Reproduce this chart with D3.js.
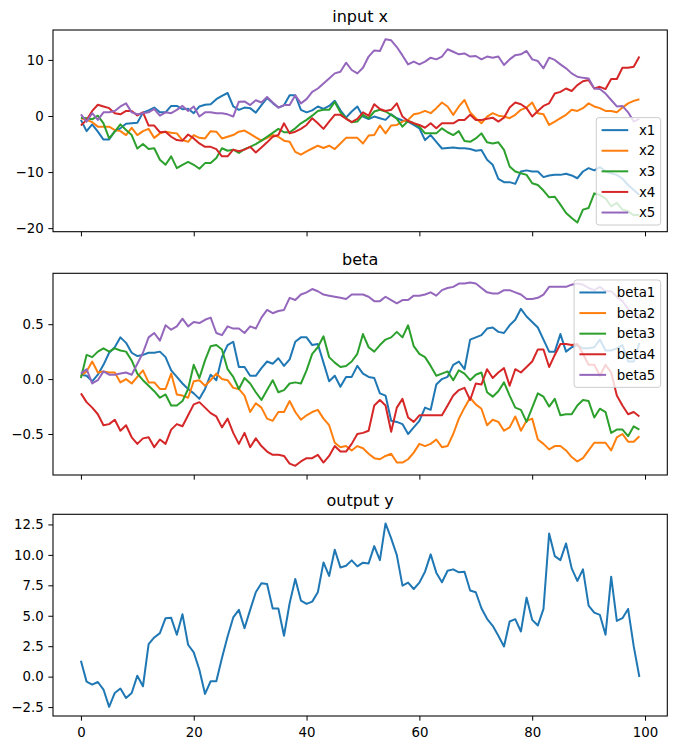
<!DOCTYPE html>
<html>
<head>
<meta charset="utf-8">
<script src="https://cdn.jsdelivr.net/npm/d3@7"></script>
<style>
	body { margin: 0; background: #fff; }
	text { font-family: 'DejaVu Sans', sans-serif; }
</style>
</head>
<body>
<div id="chart"></div>
<script>
const steps = d3.range(100);

// input x
const x1 = [-0.7, -2.7, -1.5, -2.8, -4.2, -4.2, -2.7, -2.2, -1.4, -1.3, -1.2, 0.6, 1.0, 1.5, 0.65, 0.65, 1.8, 1.8, 1.2, 1.3, 0.5, 1.7, 2.0, 2.1, 3.0, 3.6, 4.1, 1.7, 1.1, 1.5,
	1.4, 0.6, 1.95, 3.2, 2.3, 1.5, 1.9, 3.7, 3.7, 1.1, 0.65, 1.0, 1.7, 1.25, 1.8, 2.7, 1.0, -0.3, 0.8, 1.7,
	-0.1, -0.55, -0.1, -0.4, -0.7, 0.3, -0.4, -0.8, -1.0, -1.6, -2.2, -4.3, -3.4, -4.6, -5.8, -5.7, -5.6, -5.75, -5.75, -5.9,
	-6.2, -6.05, -7.8, -8.7, -11.2, -11.8, -11.8, -12.1, -9.9, -9.7, -9.9, -9.9, -10.9, -10.6, -10.5, -10.5, -10.3, -10.6, -11.1, -9.9,
	-9.3, -9.7, -9.1, -9.9, -10.2, -10.5, -11.2, -12.3, -13.2, -14.1];
const x2 = [-0.4, -0.7, -1.1, -1.9, -1.9, -1.9, -2.5, -2.7, -3.4, -2.1, -3.4, -2.7, -2.3, -3.9, -3.1, -2.8, -3.0, -3.1, -4.3, -4.6, -3.4, -3.9, -4.0, -2.7, -2.8, -4.0, -3.7, -3.4, -2.8,
	-2.6, -3.2, -3.8, -4.4, -3.9, -3.4, -3.7, -4.4, -4.6, -6.4, -6.9, -6.3, -5.8, -5.3, -5.7, -5.3, -5.9, -4.9, -3.9, -3.9, -3.9,
	-4.9, -3.5, -3.4, -1.7, -3.1, -1.7, -1.6, -1.0, -0.7, 0.3, 0.5, 0.9, 0.5, 1.4, 2.4, 1.7, 0.2, 1.7, 2.85, 0.65,
	-0.4, -1.3, -0.1, 0.5, 0.06, -0.1, -0.4, 0.2, 1.1, 1.5, 2.4, 0.5, 0.3, -1.6, -1.0, -0.4, 0.2, 1.1, 0.9, 1.4,
	2.25, 1.7, 1.4, 0.9, 0.9, 0.65, 1.5, 2.25, 2.7, 3.0];
const x3 = [-0.3, -0.4, -0.6, 0.05, -1.3, -4.0, -2.8, -1.5, -2.5, -3.4, -5.8, -5.0, -5.9, -5.75, -7.8, -8.7, -7.2, -9.3, -8.7, -8.2, -8.7, -9.4, -8.4, -8.4, -7.5, -5.75, -6.2, -6.0, -6.6,
	-5.9, -5.5, -5.0, -4.4, -3.7, -3.0, -2.3, -2.9, -2.9, -2.2, -1.3, -0.7, 0.06, 0.9, 1.1, 1.1, 2.5, 0.65, -0.4, -1.1, -1.0,
	0.2, -0.4, 0.8, 1.1, 0.8, 0.2, -0.5, -1.9, -0.9, -1.3, -1.9, -3.1, -3.1, -3.1, -2.2, -2.9, -3.4, -2.7, -4.45,
	-4.6, -4.0, -3.1, -4.7, -4.9, -4.7, -6.05, -9.0, -9.9, -10.2, -10.5, -12.0, -12.3, -13.3, -14.5, -14.4, -15.8, -17.3, -18.2, -19.0,
	-16.7, -16.4, -13.8, -14.1, -14.7, -16.1, -15.5, -16.7, -17.0, -17.7, -17.6];
const x4 = [-1.7, -0.7, 0.9, 2.0, 1.7, 1.4, 0.5, 0.3, 0.9, 0.9, 0.1, 0.65, -1.7, -1.7, -2.9, -2.8, -3.7, -4.3, -4.4, -3.3, -4.0, -4.9, -5.5, -5.5, -5.9, -7.2, -7.2, -6.0, -6.3,
	-6.0, -5.5, -6.5, -5.6, -4.7, -3.7, -3.4, -1.3, -3.1, -2.8, -2.3, -1.6, -0.4, -1.3, -2.3, -1.0, 0.2, 0.2, -0.5, -1.1, -0.5,
	0.65, 0.06, 2.1, 1.25, 0.9, 1.1, 2.25, -0.1, -0.9, -1.3, -1.6, -2.1, -1.3, -2.2, -1.3, -1.3, -1.3, -0.7,
	-0.7, 0.2, -0.7, -0.7, -0.5, -0.3, -1.0, -0.3, 1.5, 2.4, 2.1, 1.4, -0.1, 0.9, 1.8, 2.25, 4.0, 4.3, 4.9, 4.45, 5.5, 6.2,
	6.4, 4.9, 5.2, 4.8, 6.6, 6.6, 8.6, 8.6, 8.8, 10.6];
const x5 = [0.3, -1.0, 0.5, -0.7, 0.65, 0.65, 0.9, 1.7, 2.25, 0.65, 0.3, 0.5, 0.65, 1.25, 0.06, 0.65, 0.5, 1.1, 1.8, 0.9, 1.7, -0.1, 0.65, 0.65, 0.5, 0.5, 0.3, -0.1, 2.55,
	2.6, 1.95, 2.8, 2.4, 3.4, 2.4, 1.5, 1.95, 1.95, 3.7, 2.25, 3.0, 4.3, 4.9, 5.8, 6.7, 7.6, 7.9, 9.5, 8.2, 7.6,
	8.6, 10.6, 11.7, 11.6, 13.7, 13.5, 12.3, 10.8, 9.2, 9.7, 9.2, 9.7, 10.4, 10.1, 10.6, 11.9, 11.45, 11.0, 11.15,
	10.6, 10.7, 10.1, 10.6, 10.4, 10.6, 9.1, 10.1, 10.85, 11.0, 11.6, 10.1, 9.8, 8.5, 10.4, 10.0, 9.2, 8.5, 7.6, 7.0, 6.8,
	6.7, 4.9, 4.8, 4.0, 2.85, 1.7, 1.8, 0.65, -1.0, -0.5];

// beta
const beta1 = [0.04, 0.03, -0.02, 0.04, 0.13, 0.24, 0.29, 0.38, 0.33, 0.24, 0.21, 0.22, 0.24, 0.24, 0.25, 0.2, 0.08, 0.02, -0.04, -0.09, -0.13, -0.18, -0.09, 0.04, -0.01, 0.2, 0.31, 0.34, 0.11,
	0.11, 0.03, 0.03, 0.1, 0.16, 0.14, 0.19, 0.12, 0.18, 0.34, 0.38, 0.38, 0.31, 0.32, 0.15, -0.02, 0.03, -0.07, 0.02, 0.02, 0.12,
	0.05, 0.02, 0.01, -0.13, -0.15, -0.38, -0.39, -0.41, -0.5, -0.44, -0.38, -0.26, -0.28, -0.05, 0.0, 0.02, 0.13, 0.16, 0.09,
	0.36, 0.38, 0.4, 0.46, 0.47, 0.43, 0.42, 0.49, 0.54, 0.64, 0.57, 0.52, 0.47, 0.36, 0.25, 0.25, 0.41, 0.25, 0.29, 0.31, 0.28,
	0.28, 0.29, 0.36, 0.26, 0.26, 0.28, 0.31, 0.16, 0.16, 0.33];
const beta2 = [0.03, 0.07, 0.16, 0.06, 0.07, 0.06, 0.06, -0.03, 0.0, -0.04, 0.02, 0.08, -0.03, -0.03, -0.09, -0.09, 0.05, -0.14, -0.15, -0.17, -0.02, -0.01, -0.06, -0.01, 0.05, 0.0, -0.01, -0.08, -0.09,
	-0.15, -0.3, -0.22, -0.26, -0.36, -0.38, -0.3, -0.3, -0.2, -0.3, -0.37, -0.33, -0.3, -0.28, -0.36, -0.42, -0.58, -0.62, -0.61, -0.65, -0.61,
	-0.63, -0.68, -0.72, -0.73, -0.7, -0.68, -0.76, -0.76, -0.73, -0.67, -0.59, -0.61, -0.59, -0.55, -0.62, -0.61, -0.5,
	-0.36, -0.26, -0.17, -0.23, -0.27, -0.42, -0.37, -0.39, -0.47, -0.44, -0.34, -0.47, -0.38, -0.36, -0.55, -0.59, -0.64, -0.61, -0.61, -0.65, -0.71, -0.75, -0.72,
	-0.65, -0.58, -0.58, -0.58, -0.65, -0.53, -0.5, -0.57, -0.57, -0.52];
const beta3 = [0.01, 0.22, 0.2, 0.25, 0.28, 0.25, 0.28, 0.26, 0.25, 0.17, 0.05, -0.01, -0.06, -0.11, -0.17, -0.14, -0.24, -0.24, -0.2, -0.09, 0.13, 0.01, 0.17, 0.3, 0.31, 0.27, 0.09, 0.02, -0.09,
	0.01, -0.04, -0.12, -0.19, -0.1, -0.01, -0.12, -0.1, -0.04, -0.03, -0.04, 0.08, 0.23, 0.29, 0.39, 0.2, 0.15, 0.11, 0.12, 0.16, 0.23,
	0.41, 0.29, 0.25, 0.31, 0.36, 0.38, 0.43, 0.38, 0.49, 0.3, 0.23, 0.2, 0.12, 0.03, 0.05, 0.07, -0.01,
	0.08, 0.05, -0.01, 0.04, 0.06, -0.12, -0.16, -0.11, -0.03, -0.15, -0.26, -0.28, -0.39, -0.26, -0.13, -0.16, -0.25, -0.18, -0.33, -0.32, -0.32, -0.24, -0.19,
	-0.2, -0.35, -0.27, -0.3, -0.49, -0.46, -0.46, -0.52, -0.43, -0.46];
const beta4 = [-0.13, -0.21, -0.26, -0.32, -0.42, -0.41, -0.37, -0.47, -0.42, -0.53, -0.59, -0.54, -0.53, -0.62, -0.55, -0.59, -0.46, -0.41, -0.43, -0.33, -0.23, -0.21, -0.26, -0.31, -0.34, -0.44, -0.36, -0.49, -0.59,
	-0.49, -0.62, -0.54, -0.61, -0.66, -0.69, -0.69, -0.7, -0.77, -0.79, -0.75, -0.72, -0.72, -0.69, -0.76, -0.7, -0.61, -0.66, -0.66, -0.59, -0.5,
	-0.49, -0.47, -0.24, -0.19, -0.24, -0.48, -0.26, -0.18, -0.35, -0.39, -0.33, -0.33, -0.33, -0.33, -0.33, -0.24, -0.15,
	-0.1, -0.08, -0.19, -0.04, -0.05, 0.09, 0.01, 0.06, 0.1, -0.06, 0.09, 0.06, 0.11, 0.16, 0.27, 0.27, 0.11, 0.22, 0.32, 0.32, 0.31, 0.32, 0.23,
	0.13, 0.13, 0.03, 0.13, 0.06, -0.15, -0.24, -0.32, -0.3, -0.34];
const beta5 = [0.05, 0.09, -0.04, -0.01, 0.07, 0.04, 0.04, 0.05, 0.06, 0.04, 0.14, 0.24, 0.38, 0.42, 0.35, 0.49, 0.45, 0.48, 0.55, 0.48, 0.52, 0.51, 0.54, 0.56, 0.42, 0.4, 0.48, 0.46, 0.46,
	0.42, 0.48, 0.46, 0.56, 0.63, 0.6, 0.62, 0.63, 0.74, 0.72, 0.77, 0.79, 0.82, 0.8, 0.77, 0.76, 0.75, 0.74, 0.73, 0.77, 0.77,
	0.77, 0.75, 0.71, 0.71, 0.75, 0.72, 0.69, 0.72, 0.72, 0.76, 0.76, 0.77, 0.79, 0.76, 0.81, 0.83, 0.84,
	0.87, 0.87, 0.88, 0.87, 0.83, 0.79, 0.78, 0.78, 0.81, 0.81, 0.79, 0.77, 0.73, 0.73, 0.74, 0.77, 0.84, 0.84, 0.84, 0.84, 0.86, 0.87, 0.86,
	0.83, 0.81, 0.84, 0.8, 0.8, 0.75, 0.71, 0.64, 0.58, 0.55];

// output y
const y = [1.3, -0.41, -0.65, -0.44, -1.06, -2.48, -1.34, -0.98, -1.75, -1.34, 0.08, -0.79, 2.67, 3.22, 3.57, 4.8, 4.83, 3.44, 5.13, 2.62,
	1.99, 0.57, -1.42, -0.38, -0.38, 1.53, 3.3, 4.86, 5.48, 3.98, 5.48, 6.93, 7.67, 7.61, 5.59, 5.59, 3.36, 6.03, 8.02, 6.25,
	5.97, 6.16, 6.93, 9.38, 8.27, 10.42, 8.97, 9.11, 9.55, 9.06, 9.36, 9.3, 10.72, 9.57, 12.58, 11.35, 9.98, 7.47, 7.72, 7.2,
	7.72, 8.62, 10.04, 8.54, 7.75, 8.7, 8.81, 8.57, 8.62, 7.07, 6.93, 5.62, 4.75, 4.17, 3.36, 2.48, 4.53, 4.72, 3.71, 6.49,
	4.66, 4.2, 5.56, 11.76, 9.9, 9.57, 10.94, 8.89, 7.86, 8.81, 5.84, 5.26, 5.07, 3.44, 8.21, 4.58, 4.8, 5.56, 2.48, -0.03];

const xNames = ['x1', 'x2', 'x3', 'x4', 'x5'];
const betaNames = ['beta1', 'beta2', 'beta3', 'beta4', 'beta5'];
const xTicks = [0, 20, 40, 60, 80, 100];
const colors = ['#1f77b4', '#ff7f0e', '#2ca02c', '#d62728', '#9467bd'];

const width = 676;
const height = 750;
const fontSize = 13.33;

const svg = d3
	.select('#chart')
	.append('svg')
	.attr('width', width)
	.attr('height', height);

const marginLeft = 53;
const marginRight = 667.3;

const panels = [
	{ title: 'input x', top: 30, bottom: 231.7, series: [x1, x2, x3, x4, x5], names: xNames, yTicks: [-20, -10, 0, 10], fmt: d3.format('d'), legend: 'lower' },
	{ title: 'beta', top: 273.3, bottom: 475, series: [beta1, beta2, beta3, beta4, beta5], names: betaNames, yTicks: [-0.5, 0, 0.5], fmt: d3.format('.1f'), legend: 'upper' },
	{ title: 'output y', top: 514.3, bottom: 716, series: [y], names: null, yTicks: [-2.5, 0, 2.5, 5, 7.5, 10, 12.5], fmt: d3.format('.1f'), legend: null },
];

// matplotlib style 5% margins
const padded = (lo, hi) => [lo - (hi - lo) * 0.05, hi + (hi - lo) * 0.05];

const xScale = d3
	.scaleLinear()
	.domain(padded(0, steps.length - 1))
	.range([marginLeft, marginRight]);

panels.forEach((p, pi) => {
	const all = p.series.flat();
	const yScale = d3
		.scaleLinear()
		.domain(padded(d3.min(all), d3.max(all)))
		.range([p.bottom, p.top]);

	const g = svg.append('g');

	const line = d3
		.line()
		.x((d, i) => xScale(steps[i]))
		.y((d) => yScale(d));

	g.selectAll('.series')
		.data(p.series)
		.join('path')
		.attr('class', 'series')
		.attr('d', line)
		.attr('fill', 'none')
		.attr('stroke', (d, i) => colors[i])
		.attr('stroke-width', 2)
		.attr('stroke-linejoin', 'round');

	// y axis
	const yAxis = g
		.append('g')
		.attr('transform', `translate(${marginLeft},0)`)
		.call(d3.axisLeft(yScale).tickValues(p.yTicks).tickFormat(p.fmt).tickSize(4.67).tickPadding(4.67));
	yAxis.select('.domain').remove();
	yAxis.selectAll('text').attr('font-size', fontSize).attr('font-family', "'DejaVu Sans', sans-serif").attr('fill', '#000');
	yAxis.selectAll('line').attr('stroke', '#000');

	// x axis, labels only on the last panel
	const xAxis = g
		.append('g')
		.attr('transform', `translate(0,${p.bottom})`)
		.call(d3.axisBottom(xScale).tickValues(xTicks).tickFormat(pi === panels.length - 1 ? d3.format('d') : () => '').tickSize(4.67).tickPadding(4.67));
	xAxis.select('.domain').remove();
	xAxis.selectAll('text').attr('font-size', fontSize).attr('font-family', "'DejaVu Sans', sans-serif").attr('fill', '#000').attr('dy', '0.9em');
	xAxis.selectAll('line').attr('stroke', '#000');

	// frame
	g.append('rect')
		.attr('x', marginLeft)
		.attr('y', p.top)
		.attr('width', marginRight - marginLeft)
		.attr('height', p.bottom - p.top)
		.attr('fill', 'none')
		.attr('stroke', '#000')
		.attr('stroke-width', 1.07);

	g.append('text')
		.attr('x', (marginLeft + marginRight) / 2)
		.attr('y', p.top - 8)
		.attr('text-anchor', 'middle')
		.attr('font-size', 16)
		.text(p.title);

	if (!p.legend) return;

	const rowGap = 20.6;
	const boxPad = 12.5;
	const boxH = rowGap * (p.names.length - 1) + boxPad * 2;
	const boxRight = marginRight - 6.67;
	const boxTop = p.legend === 'upper' ? p.top + 6.67 : p.bottom - 6.67 - boxH;

	const leg = g.append('g');
	const frame = leg.append('rect');
	const labels = leg
		.selectAll('text')
		.data(p.names)
		.join('text')
		.attr('font-size', fontSize)
		.attr('y', (d, i) => boxTop + boxPad + rowGap * i)
		.attr('dy', '0.35em')
		.text((d) => d);

	const textW = d3.max(labels.nodes(), (n) => n.getComputedTextLength());
	const boxW = 5.33 + 26.67 + 10.67 + textW + 5.33;
	const boxLeft = boxRight - boxW;

	frame
		.attr('x', boxLeft)
		.attr('y', boxTop)
		.attr('width', boxW)
		.attr('height', boxH)
		.attr('rx', 2.7)
		.attr('fill', 'rgba(255,255,255,0.8)')
		.attr('stroke', '#cccccc')
		.attr('stroke-width', 1);

	labels.attr('x', boxLeft + 5.33 + 26.67 + 10.67);

	leg.selectAll('line')
		.data(p.names)
		.join('line')
		.attr('x1', boxLeft + 5.33)
		.attr('x2', boxLeft + 5.33 + 26.67)
		.attr('y1', (d, i) => boxTop + boxPad + rowGap * i)
		.attr('y2', (d, i) => boxTop + boxPad + rowGap * i)
		.attr('stroke', (d, i) => colors[i])
		.attr('stroke-width', 2);
});
</script>
</body>
</html>
